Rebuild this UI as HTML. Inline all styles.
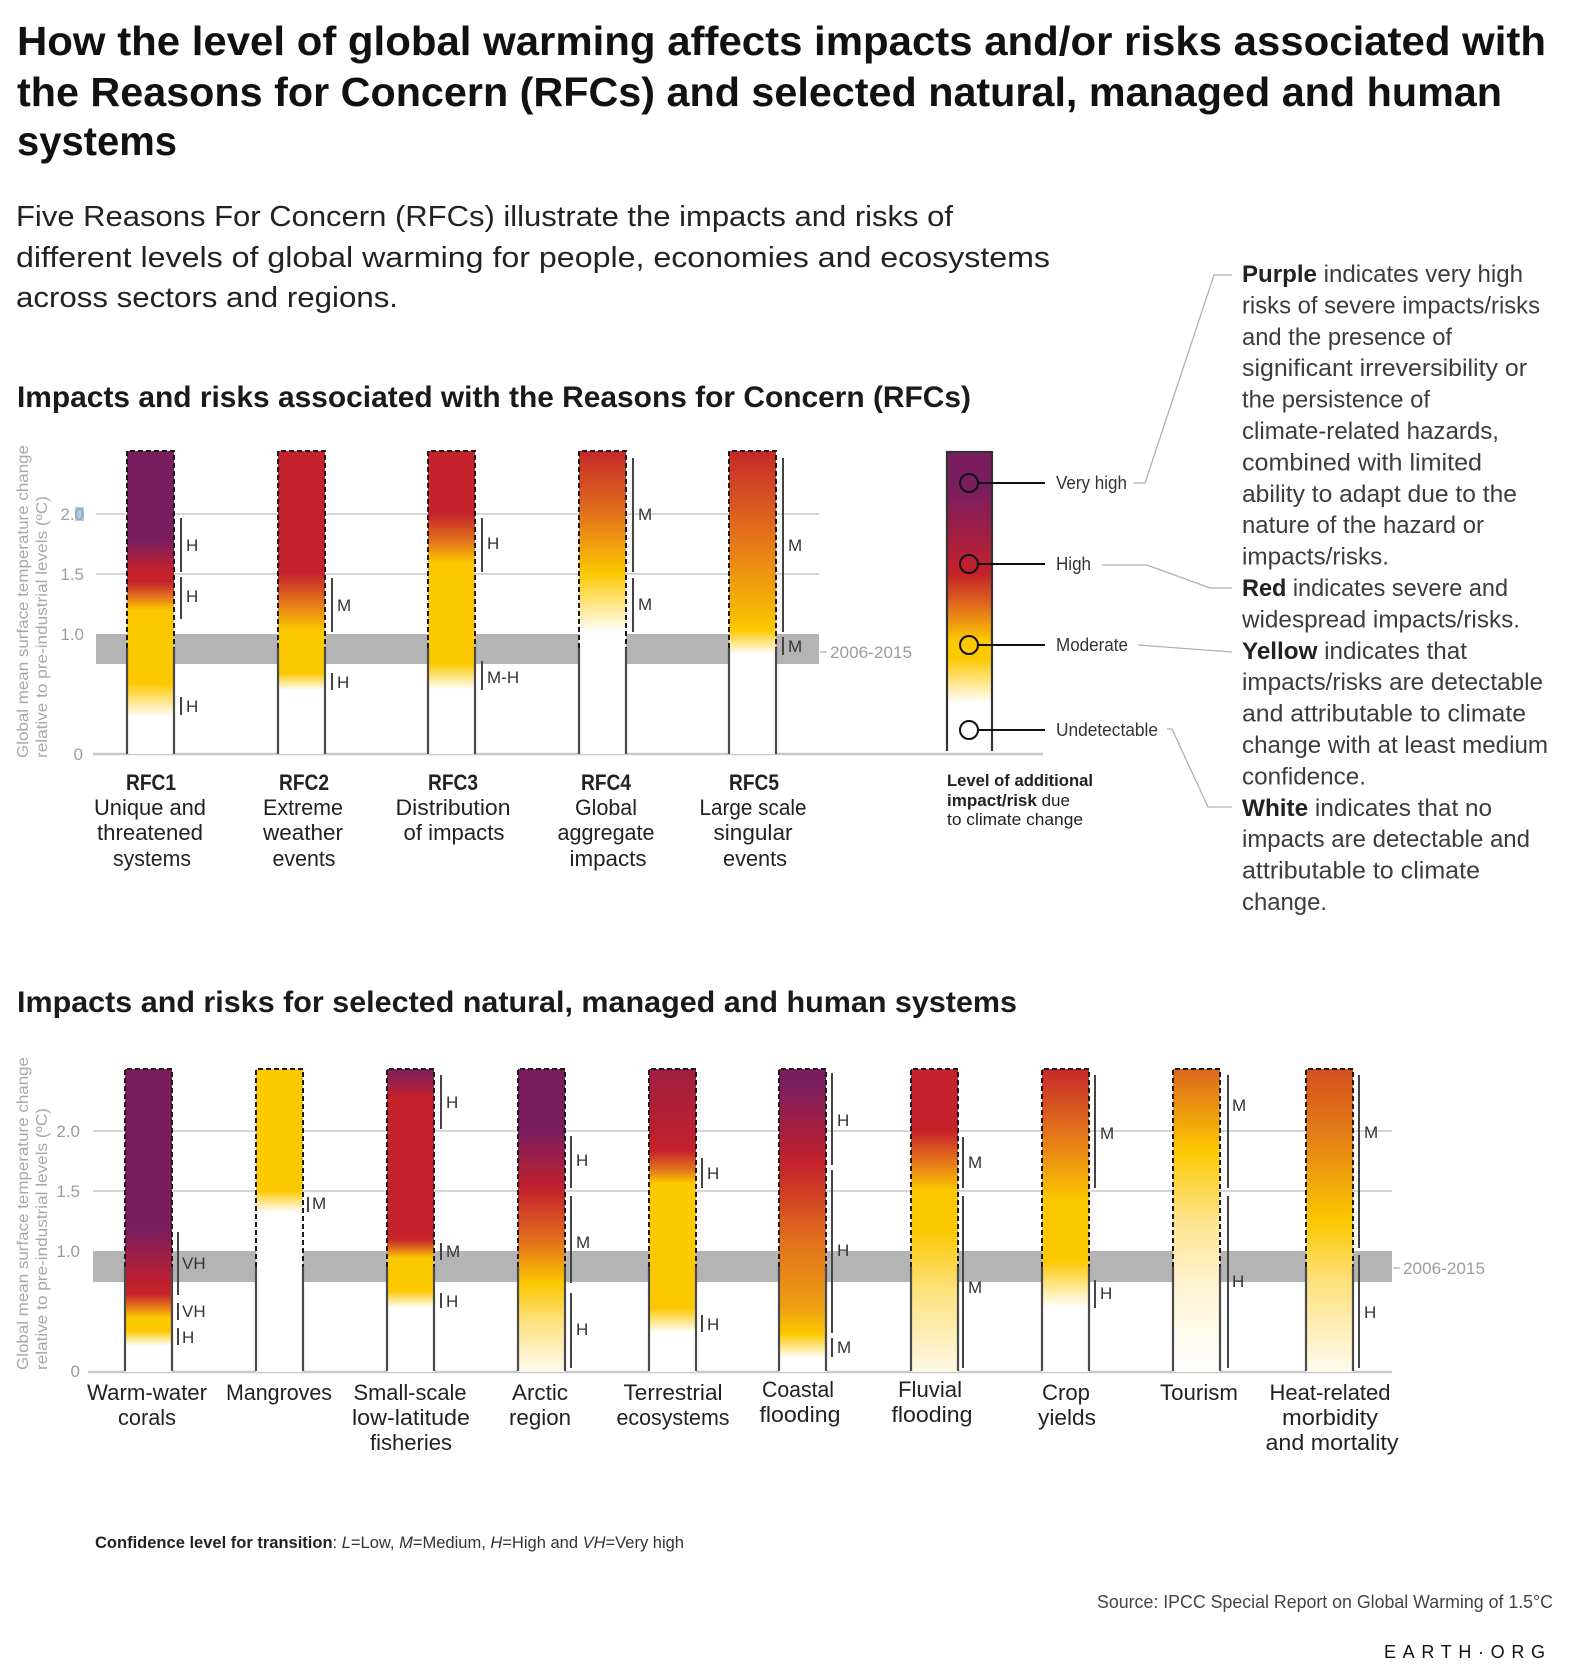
<!DOCTYPE html>
<html><head><meta charset="utf-8"><style>
html,body{margin:0;padding:0;background:#fff;}
svg{display:block;font-family:"Liberation Sans",sans-serif;}
</style></head><body>
<svg width="1585" height="1680" viewBox="0 0 1585 1680" xmlns="http://www.w3.org/2000/svg">
<defs>
<linearGradient id="g1" x1="0" y1="0" x2="0" y2="1"><stop offset="0" stop-color="#7a1d5f"/><stop offset=".294" stop-color="#7a1d5f"/><stop offset=".393" stop-color="#c4212b"/><stop offset=".432" stop-color="#c4212b"/><stop offset=".479" stop-color="#e2701c"/><stop offset=".525" stop-color="#fcc800"/><stop offset=".766" stop-color="#fcc800"/><stop offset=".878" stop-color="#fff"/><stop offset="1" stop-color="#fff"/></linearGradient>
<linearGradient id="g2" x1="0" y1="0" x2="0" y2="1"><stop offset="0" stop-color="#c4212b"/><stop offset=".403" stop-color="#c4212b"/><stop offset=".492" stop-color="#e2701c"/><stop offset=".591" stop-color="#fcc800"/><stop offset=".733" stop-color="#fcc800"/><stop offset=".789" stop-color="#fff"/><stop offset="1" stop-color="#fff"/></linearGradient>
<linearGradient id="g3" x1="0" y1="0" x2="0" y2="1"><stop offset="0" stop-color="#c4212b"/><stop offset=".205" stop-color="#c4212b"/><stop offset=".294" stop-color="#e2701c"/><stop offset=".37" stop-color="#fcc800"/><stop offset=".70" stop-color="#fcc800"/><stop offset=".789" stop-color="#fff"/><stop offset="1" stop-color="#fff"/></linearGradient>
<linearGradient id="g4" x1="0" y1="0" x2="0" y2="1"><stop offset="0" stop-color="#c6282a"/><stop offset=".205" stop-color="#e2701c"/><stop offset=".403" stop-color="#fcc800"/><stop offset=".60" stop-color="#fff"/><stop offset="1" stop-color="#fff"/></linearGradient>
<linearGradient id="g5" x1="0" y1="0" x2="0" y2="1"><stop offset="0" stop-color="#c6282a"/><stop offset=".27" stop-color="#e2701c"/><stop offset=".59" stop-color="#fcc800"/><stop offset=".67" stop-color="#fff"/><stop offset="1" stop-color="#fff"/></linearGradient>
<linearGradient id="gl" x1="0" y1="0" x2="0" y2="1"><stop offset="0" stop-color="#7a1d5f"/><stop offset=".13" stop-color="#7a1d5f"/><stop offset=".405" stop-color="#c4212b"/><stop offset=".52" stop-color="#e2701c"/><stop offset=".63" stop-color="#fcc800"/><stop offset=".69" stop-color="#fcc800"/><stop offset=".84" stop-color="#fff"/><stop offset="1" stop-color="#fff"/></linearGradient>
<linearGradient id="b1" x1="0" y1="0" x2="0" y2="1"><stop offset="0" stop-color="#7a1d5f"/><stop offset=".523" stop-color="#7a1d5f"/><stop offset=".722" stop-color="#c4212b"/><stop offset=".742" stop-color="#c4212b"/><stop offset=".78" stop-color="#e2701c"/><stop offset=".821" stop-color="#fcc800"/><stop offset=".864" stop-color="#fcc800"/><stop offset=".914" stop-color="#fff"/><stop offset="1" stop-color="#fff"/></linearGradient>
<linearGradient id="b2" x1="0" y1="0" x2="0" y2="1"><stop offset="0" stop-color="#fcc800"/><stop offset=".40" stop-color="#fcc800"/><stop offset=".474" stop-color="#fff"/><stop offset="1" stop-color="#fff"/></linearGradient>
<linearGradient id="b3" x1="0" y1="0" x2="0" y2="1"><stop offset="0" stop-color="#7a1d5f"/><stop offset=".093" stop-color="#c4212b"/><stop offset=".56" stop-color="#c4212b"/><stop offset=".593" stop-color="#e2701c"/><stop offset=".623" stop-color="#fcc800"/><stop offset=".732" stop-color="#fcc800"/><stop offset=".788" stop-color="#fff"/><stop offset="1" stop-color="#fff"/></linearGradient>
<linearGradient id="b4" x1="0" y1="0" x2="0" y2="1"><stop offset="0" stop-color="#7a1d5f"/><stop offset=".202" stop-color="#7a1d5f"/><stop offset=".40" stop-color="#c4212b"/><stop offset=".566" stop-color="#e2701c"/><stop offset=".709" stop-color="#fcc800"/><stop offset=".83" stop-color="#fde17c"/><stop offset="1" stop-color="#fffaf0"/></linearGradient>
<linearGradient id="b5" x1="0" y1="0" x2="0" y2="1"><stop offset="0" stop-color="#a01f42"/><stop offset=".268" stop-color="#c4212b"/><stop offset=".33" stop-color="#e2701c"/><stop offset=".377" stop-color="#fcc800"/><stop offset=".788" stop-color="#fcc800"/><stop offset=".871" stop-color="#fff"/><stop offset="1" stop-color="#fff"/></linearGradient>
<linearGradient id="b6" x1="0" y1="0" x2="0" y2="1"><stop offset="0" stop-color="#7a1d5f"/><stop offset=".047" stop-color="#7a1d5f"/><stop offset=".311" stop-color="#c4212b"/><stop offset=".566" stop-color="#e2701c"/><stop offset=".788" stop-color="#eea012"/><stop offset=".874" stop-color="#fcc800"/><stop offset=".954" stop-color="#fff"/><stop offset="1" stop-color="#fff"/></linearGradient>
<linearGradient id="b7" x1="0" y1="0" x2="0" y2="1"><stop offset="0" stop-color="#c4212b"/><stop offset=".202" stop-color="#c4212b"/><stop offset=".30" stop-color="#e2701c"/><stop offset=".40" stop-color="#fcc800"/><stop offset=".53" stop-color="#fcc800"/><stop offset=".73" stop-color="#fde17c"/><stop offset="1" stop-color="#fff8e8"/></linearGradient>
<linearGradient id="b8" x1="0" y1="0" x2="0" y2="1"><stop offset="0" stop-color="#c6282a"/><stop offset=".2" stop-color="#e2701c"/><stop offset=".434" stop-color="#fcc800"/><stop offset=".632" stop-color="#fcc800"/><stop offset=".788" stop-color="#fff"/><stop offset="1" stop-color="#fff"/></linearGradient>
<linearGradient id="b9" x1="0" y1="0" x2="0" y2="1"><stop offset="0" stop-color="#dc661e"/><stop offset=".268" stop-color="#fcc800"/><stop offset=".5" stop-color="#fde48c"/><stop offset=".73" stop-color="#fff4d6"/><stop offset="1" stop-color="#fff"/></linearGradient>
<linearGradient id="b10" x1="0" y1="0" x2="0" y2="1"><stop offset="0" stop-color="#d4501e"/><stop offset=".2" stop-color="#e27a18"/><stop offset=".5" stop-color="#fcc800"/><stop offset=".70" stop-color="#fde17c"/><stop offset="1" stop-color="#fffaee"/></linearGradient>
</defs>

<!-- Titles -->
<g font-weight="bold" fill="#111" font-size="41">
<text x="17" y="55" textLength="1529" lengthAdjust="spacingAndGlyphs">How the level of global warming affects impacts and/or risks associated with</text>
<text x="17" y="106" textLength="1485" lengthAdjust="spacingAndGlyphs">the Reasons for Concern (RFCs) and selected natural, managed and human</text>
<text x="17" y="155" textLength="160" lengthAdjust="spacingAndGlyphs">systems</text>
</g>
<g fill="#222" font-size="29">
<text x="16" y="226" textLength="937" lengthAdjust="spacingAndGlyphs">Five Reasons For Concern (RFCs) illustrate the impacts and risks of</text>
<text x="16" y="267" textLength="1034" lengthAdjust="spacingAndGlyphs">different levels of global warming for people, economies and ecosystems</text>
<text x="16" y="307" textLength="382" lengthAdjust="spacingAndGlyphs">across sectors and regions.</text>
</g>
<g font-weight="bold" fill="#1a1a1a" font-size="30">
<text x="17" y="407" textLength="954" lengthAdjust="spacingAndGlyphs">Impacts and risks associated with the Reasons for Concern (RFCs)</text>
<text x="17" y="1012" textLength="1000" lengthAdjust="spacingAndGlyphs">Impacts and risks for selected natural, managed and human systems</text>
</g>

<!-- ===== TOP CHART ===== -->
<g fill="#a8a8a8" font-size="15.5">
<text transform="translate(28,758) rotate(-90)" textLength="313" lengthAdjust="spacingAndGlyphs">Global mean surface temperature change</text>
<text transform="translate(47,758) rotate(-90)" textLength="262" lengthAdjust="spacingAndGlyphs">relative to pre-industrial levels (ºC)</text>
<text transform="translate(28,1370) rotate(-90)" textLength="313" lengthAdjust="spacingAndGlyphs">Global mean surface temperature change</text>
<text transform="translate(47,1370) rotate(-90)" textLength="262" lengthAdjust="spacingAndGlyphs">relative to pre-industrial levels (ºC)</text>
</g>
<rect x="75" y="507" width="9" height="14" fill="#a9cbe8"/>
<g fill="#9d9d9d" font-size="17" text-anchor="end">
<text x="84" y="520">2.0</text><text x="84" y="580">1.5</text><text x="84" y="640">1.0</text><text x="83" y="760">0</text>
<text x="80" y="1137">2.0</text><text x="80" y="1197">1.5</text><text x="80" y="1257">1.0</text><text x="80" y="1377">0</text>
</g>
<g stroke="#c8c8c8" stroke-width="1.5">
<line x1="96" y1="514" x2="819" y2="514"/><line x1="96" y1="574" x2="819" y2="574"/>
<line x1="93" y1="1131" x2="1392" y2="1131"/><line x1="93" y1="1191" x2="1392" y2="1191"/>
</g>
<rect x="96" y="634" width="723" height="30" fill="#b4b4b4"/>
<rect x="93" y="1251" width="1299" height="31" fill="#b4b4b4"/>
<line x1="93" y1="754" x2="1043" y2="754" stroke="#c8c8c8" stroke-width="2.5"/>
<line x1="88" y1="1372" x2="1392" y2="1372" stroke="#c8c8c8" stroke-width="2.5"/>
<line x1="820" y1="652" x2="827" y2="652" stroke="#aaa" stroke-width="1.2"/>
<line x1="1393" y1="1268" x2="1400" y2="1268" stroke="#aaa" stroke-width="1.2"/>
<g fill="#9d9d9d" font-size="17">
<text x="830" y="658" textLength="82" lengthAdjust="spacingAndGlyphs">2006-2015</text>
<text x="1403" y="1274" textLength="82" lengthAdjust="spacingAndGlyphs">2006-2015</text>
</g>

<!-- top bars -->
<g>
<rect x="127" y="451" width="47" height="303" fill="url(#g1)"/>
<rect x="278" y="451" width="47" height="303" fill="url(#g2)"/>
<rect x="428" y="451" width="47" height="303" fill="url(#g3)"/>
<rect x="579" y="451" width="47" height="303" fill="url(#g4)"/>
<rect x="729" y="451" width="47" height="303" fill="url(#g5)"/>
</g>
<g fill="none" stroke="#1a1a1a" stroke-width="2" stroke-dasharray="5 3">
<path d="M127 648V451H174V648"/><path d="M278 648V451H325V648"/><path d="M428 648V451H475V648"/><path d="M579 648V451H626V648"/><path d="M729 648V451H776V648"/>
</g>
<g stroke="#4a4a4a" stroke-width="2.2">
<path d="M127 648V754M174 648V754M278 648V754M325 648V754M428 648V754M475 648V754M579 648V754M626 648V754M729 648V754M776 648V754"/>
</g>
<!-- top confidence marks -->
<g stroke="#444" stroke-width="2">
<path d="M181 518V572M181 577V619M181 697V715"/>
<path d="M332 578V632M332 673V690"/>
<path d="M482 518V572M482 661V690"/>
<path d="M633 458V572M633 578V632"/>
<path d="M783 458V632M783 637V655"/>
</g>
<g fill="#333" font-size="17">
<text x="186" y="551">H</text><text x="186" y="602">H</text><text x="186" y="712">H</text>
<text x="337" y="611">M</text><text x="337" y="688">H</text>
<text x="487" y="549">H</text><text x="487" y="683">M-H</text>
<text x="638" y="520">M</text><text x="638" y="610">M</text>
<text x="788" y="551">M</text><text x="788" y="652">M</text>
</g>
<!-- top labels -->
<g fill="#222" font-size="22" text-anchor="middle">
<g font-weight="bold">
<text x="151" y="790" textLength="50" lengthAdjust="spacingAndGlyphs">RFC1</text>
<text x="304" y="790" textLength="50" lengthAdjust="spacingAndGlyphs">RFC2</text>
<text x="453" y="790" textLength="50" lengthAdjust="spacingAndGlyphs">RFC3</text>
<text x="606" y="790" textLength="50" lengthAdjust="spacingAndGlyphs">RFC4</text>
<text x="754" y="790" textLength="50" lengthAdjust="spacingAndGlyphs">RFC5</text>
</g>
<text x="150" y="815" textLength="112" lengthAdjust="spacingAndGlyphs">Unique and</text>
<text x="150" y="840" textLength="106" lengthAdjust="spacingAndGlyphs">threatened</text>
<text x="152" y="866" textLength="78" lengthAdjust="spacingAndGlyphs">systems</text>
<text x="303" y="815" textLength="80" lengthAdjust="spacingAndGlyphs">Extreme</text>
<text x="303" y="840" textLength="80" lengthAdjust="spacingAndGlyphs">weather</text>
<text x="304" y="866" textLength="63" lengthAdjust="spacingAndGlyphs">events</text>
<text x="453" y="815" textLength="115" lengthAdjust="spacingAndGlyphs">Distribution</text>
<text x="454" y="840" textLength="101" lengthAdjust="spacingAndGlyphs">of impacts</text>
<text x="606" y="815" textLength="62" lengthAdjust="spacingAndGlyphs">Global</text>
<text x="606" y="840" textLength="97" lengthAdjust="spacingAndGlyphs">aggregate</text>
<text x="608" y="866" textLength="77" lengthAdjust="spacingAndGlyphs">impacts</text>
<text x="753" y="815" textLength="107" lengthAdjust="spacingAndGlyphs">Large scale</text>
<text x="753" y="840" textLength="79" lengthAdjust="spacingAndGlyphs">singular</text>
<text x="755" y="866" textLength="64" lengthAdjust="spacingAndGlyphs">events</text>
</g>

<!-- legend -->
<rect x="947" y="452" width="45" height="299" fill="url(#gl)"/>
<path d="M947 751V452H992V751" fill="none" stroke="#333" stroke-width="2.2"/>
<g stroke="#111" stroke-width="2">
<line x1="978" y1="483" x2="1045" y2="483"/><line x1="978" y1="564" x2="1045" y2="564"/>
<line x1="978" y1="645" x2="1045" y2="645"/><line x1="978" y1="730" x2="1045" y2="730"/>
<circle cx="969" cy="483" r="9" fill="none"/><circle cx="969" cy="564" r="9" fill="none"/>
<circle cx="969" cy="645" r="9" fill="none"/><circle cx="969" cy="730" r="9" fill="#fff"/>
</g>
<g fill="#333" font-size="18">
<text x="1056" y="489" textLength="71" lengthAdjust="spacingAndGlyphs">Very high</text>
<text x="1056" y="570" textLength="35" lengthAdjust="spacingAndGlyphs">High</text>
<text x="1056" y="651" textLength="72" lengthAdjust="spacingAndGlyphs">Moderate</text>
<text x="1056" y="736" textLength="102" lengthAdjust="spacingAndGlyphs">Undetectable</text>
</g>
<g fill="#222" font-size="17">
<text x="947" y="786" font-weight="bold" textLength="146" lengthAdjust="spacingAndGlyphs">Level of additional</text>
<text x="947" y="806" textLength="123" lengthAdjust="spacingAndGlyphs"><tspan font-weight="bold">impact/risk</tspan> due</text>
<text x="947" y="825" textLength="136" lengthAdjust="spacingAndGlyphs">to climate change</text>
</g>
<g fill="none" stroke="#b0b0b0" stroke-width="1.3">
<path d="M1133 483H1145L1214 275H1232"/>
<path d="M1102 565H1147L1210 588H1232"/>
<path d="M1138 645L1232 652"/>
<path d="M1167 729H1172L1208 807H1232"/>
</g>
<g fill="#3c3c3c" font-size="24">
<text x="1242" y="282" textLength="281" lengthAdjust="spacingAndGlyphs"><tspan font-weight="bold" fill="#222">Purple</tspan> indicates very high</text>
<text x="1242" y="313.4" textLength="298" lengthAdjust="spacingAndGlyphs">risks of severe impacts/risks</text>
<text x="1242" y="344.8" textLength="210" lengthAdjust="spacingAndGlyphs">and the presence of</text>
<text x="1242" y="376.2" textLength="285" lengthAdjust="spacingAndGlyphs">significant irreversibility or</text>
<text x="1242" y="407.6" textLength="188" lengthAdjust="spacingAndGlyphs">the persistence of</text>
<text x="1242" y="439" textLength="257" lengthAdjust="spacingAndGlyphs">climate-related hazards,</text>
<text x="1242" y="470.4" textLength="240" lengthAdjust="spacingAndGlyphs">combined with limited</text>
<text x="1242" y="501.8" textLength="275" lengthAdjust="spacingAndGlyphs">ability to adapt due to the</text>
<text x="1242" y="533.2" textLength="242" lengthAdjust="spacingAndGlyphs">nature of the hazard or</text>
<text x="1242" y="564.6" textLength="147" lengthAdjust="spacingAndGlyphs">impacts/risks.</text>
<text x="1242" y="596" textLength="266" lengthAdjust="spacingAndGlyphs"><tspan font-weight="bold" fill="#222">Red</tspan> indicates severe and</text>
<text x="1242" y="627.4" textLength="278" lengthAdjust="spacingAndGlyphs">widespread impacts/risks.</text>
<text x="1242" y="658.8" textLength="225" lengthAdjust="spacingAndGlyphs"><tspan font-weight="bold" fill="#222">Yellow</tspan> indicates that</text>
<text x="1242" y="690.2" textLength="301" lengthAdjust="spacingAndGlyphs">impacts/risks are detectable</text>
<text x="1242" y="721.6" textLength="284" lengthAdjust="spacingAndGlyphs">and attributable to climate</text>
<text x="1242" y="753" textLength="306" lengthAdjust="spacingAndGlyphs">change with at least medium</text>
<text x="1242" y="784.4" textLength="124" lengthAdjust="spacingAndGlyphs">confidence.</text>
<text x="1242" y="815.8" textLength="250" lengthAdjust="spacingAndGlyphs"><tspan font-weight="bold" fill="#222">White</tspan> indicates that no</text>
<text x="1242" y="847.2" textLength="288" lengthAdjust="spacingAndGlyphs">impacts are detectable and</text>
<text x="1242" y="878.6" textLength="238" lengthAdjust="spacingAndGlyphs">attributable to climate</text>
<text x="1242" y="910" textLength="85" lengthAdjust="spacingAndGlyphs">change.</text>
</g>

<!-- ===== BOTTOM CHART ===== -->
<g>
<rect x="125" y="1069" width="47" height="303" fill="url(#b1)"/>
<rect x="256" y="1069" width="47" height="303" fill="url(#b2)"/>
<rect x="387" y="1069" width="47" height="303" fill="url(#b3)"/>
<rect x="518" y="1069" width="47" height="303" fill="url(#b4)"/>
<rect x="649" y="1069" width="47" height="303" fill="url(#b5)"/>
<rect x="779" y="1069" width="47" height="303" fill="url(#b6)"/>
<rect x="911" y="1069" width="47" height="303" fill="url(#b7)"/>
<rect x="1042" y="1069" width="47" height="303" fill="url(#b8)"/>
<rect x="1173" y="1069" width="47" height="303" fill="url(#b9)"/>
<rect x="1306" y="1069" width="47" height="303" fill="url(#b10)"/>
</g>
<g fill="none" stroke="#1a1a1a" stroke-width="2" stroke-dasharray="5 3">
<path d="M125 1267V1069H172V1267"/><path d="M256 1267V1069H303V1267"/><path d="M387 1267V1069H434V1267"/><path d="M518 1267V1069H565V1267"/><path d="M649 1267V1069H696V1267"/>
<path d="M779 1267V1069H826V1267"/><path d="M911 1267V1069H958V1267"/><path d="M1042 1267V1069H1089V1267"/><path d="M1173 1267V1069H1220V1267"/><path d="M1306 1267V1069H1353V1267"/>
</g>
<g stroke="#4a4a4a" stroke-width="2.2">
<path d="M125 1267V1371M172 1267V1371M256 1267V1371M303 1267V1371M387 1267V1371M434 1267V1371M518 1267V1371M565 1267V1371M649 1267V1371M696 1267V1371M779 1267V1371M826 1267V1371M911 1267V1371M958 1267V1371M1042 1267V1371M1089 1267V1371M1173 1267V1371M1220 1267V1371M1306 1267V1371M1353 1267V1371"/>
</g>
<g stroke="#444" stroke-width="2">
<path d="M178 1232V1295M178 1303V1320M178 1328V1345"/>
<path d="M308 1197V1212"/>
<path d="M441 1075V1129M441 1243V1260M441 1293V1308"/>
<path d="M571 1136V1188M571 1196V1283M571 1293V1368"/>
<path d="M702 1158V1188M702 1315V1332"/>
<path d="M832 1073V1165M832 1170V1333M832 1338V1357"/>
<path d="M963 1137V1188M963 1196V1368"/>
<path d="M1095 1075V1188M1095 1280V1308"/>
<path d="M1228 1075V1188M1228 1196V1368"/>
<path d="M1359 1075V1248M1359 1255V1368"/>
</g>
<g fill="#333" font-size="17">
<text x="182" y="1269">VH</text><text x="182" y="1317">VH</text><text x="182" y="1343">H</text>
<text x="312" y="1209">M</text>
<text x="446" y="1108">H</text><text x="446" y="1257">M</text><text x="446" y="1307">H</text>
<text x="576" y="1166">H</text><text x="576" y="1248">M</text><text x="576" y="1335">H</text>
<text x="707" y="1179">H</text><text x="707" y="1330">H</text>
<text x="837" y="1126">H</text><text x="837" y="1256">H</text><text x="837" y="1353">M</text>
<text x="968" y="1168">M</text><text x="968" y="1293">M</text>
<text x="1100" y="1139">M</text><text x="1100" y="1299">H</text>
<text x="1232" y="1111">M</text><text x="1232" y="1287">H</text>
<text x="1364" y="1138">M</text><text x="1364" y="1318">H</text>
</g>
<g fill="#222" font-size="22" text-anchor="middle">
<text x="147" y="1400" textLength="120" lengthAdjust="spacingAndGlyphs">Warm-water</text>
<text x="147" y="1425" textLength="58" lengthAdjust="spacingAndGlyphs">corals</text>
<text x="279" y="1400" textLength="106" lengthAdjust="spacingAndGlyphs">Mangroves</text>
<text x="410" y="1400" textLength="113" lengthAdjust="spacingAndGlyphs">Small-scale</text>
<text x="411" y="1425" textLength="118" lengthAdjust="spacingAndGlyphs">low-latitude</text>
<text x="411" y="1450" textLength="82" lengthAdjust="spacingAndGlyphs">fisheries</text>
<text x="540" y="1400" textLength="56" lengthAdjust="spacingAndGlyphs">Arctic</text>
<text x="540" y="1425" textLength="62" lengthAdjust="spacingAndGlyphs">region</text>
<text x="673" y="1400" textLength="99" lengthAdjust="spacingAndGlyphs">Terrestrial</text>
<text x="673" y="1425" textLength="113" lengthAdjust="spacingAndGlyphs">ecosystems</text>
<text x="798" y="1397" textLength="72" lengthAdjust="spacingAndGlyphs">Coastal</text>
<text x="800" y="1422" textLength="81" lengthAdjust="spacingAndGlyphs">flooding</text>
<text x="930" y="1397" textLength="64" lengthAdjust="spacingAndGlyphs">Fluvial</text>
<text x="932" y="1422" textLength="81" lengthAdjust="spacingAndGlyphs">flooding</text>
<text x="1066" y="1400" textLength="48" lengthAdjust="spacingAndGlyphs">Crop</text>
<text x="1067" y="1425" textLength="58" lengthAdjust="spacingAndGlyphs">yields</text>
<text x="1199" y="1400" textLength="78" lengthAdjust="spacingAndGlyphs">Tourism</text>
<text x="1330" y="1400" textLength="121" lengthAdjust="spacingAndGlyphs">Heat-related</text>
<text x="1330" y="1425" textLength="96" lengthAdjust="spacingAndGlyphs">morbidity</text>
<text x="1332" y="1450" textLength="133" lengthAdjust="spacingAndGlyphs">and mortality</text>
</g>

<!-- footer -->
<text x="95" y="1548" font-size="17" fill="#333" textLength="589" lengthAdjust="spacingAndGlyphs"><tspan font-weight="bold" fill="#222">Confidence level  for transition</tspan>: <tspan font-style="italic">L</tspan>=Low, <tspan font-style="italic">M</tspan>=Medium, <tspan font-style="italic">H</tspan>=High and <tspan font-style="italic">VH</tspan>=Very high</text>
<text x="1097" y="1608" font-size="18" fill="#444" textLength="456" lengthAdjust="spacingAndGlyphs">Source: IPCC Special Report on Global Warming of 1.5°C</text>
<text x="1384" y="1658" font-size="18" fill="#111" textLength="161" lengthAdjust="spacing">EARTH·ORG</text>
</svg>
</body></html>
